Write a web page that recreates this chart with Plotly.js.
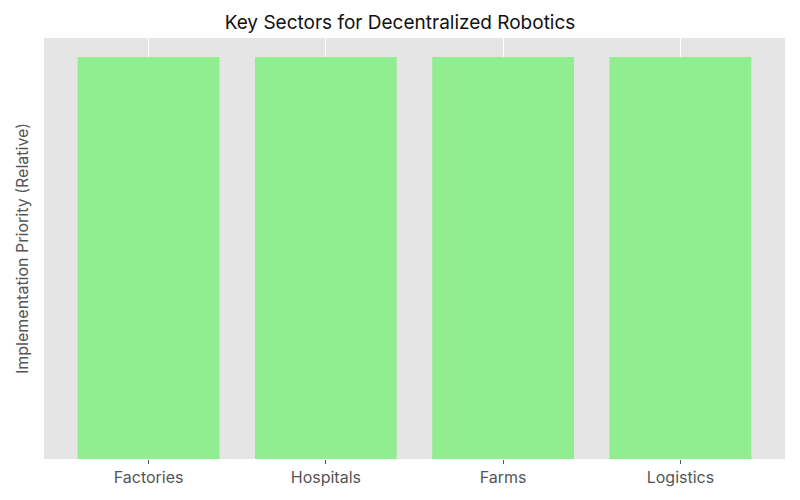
<!DOCTYPE html>
<html>
<head>
<meta charset="utf-8">
<script src="https://cdn.plot.ly/plotly-3.0.1.min.js"></script>
<style>html,body{margin:0;padding:0;background:#fff;}#chart{width:800px;height:500px;}</style>
</head>
<body>
<div id="chart"></div>
<script>
const sectors = ["Factories", "Hospitals", "Farms", "Logistics"];
const priority = [1, 1, 1, 1];

const trace = {
  type: "bar",
  x: sectors,
  y: priority,
  marker: {color: "#90ee90"},
  hoverinfo: "x+y"
};

const layout = {
  width: 800,
  height: 500,
  margin: {l: 44, r: 15, t: 38, b: 41},
  paper_bgcolor: "#ffffff",
  plot_bgcolor: "#e5e5e5",
  font: {family: "Inter, Roboto, 'Noto Sans', sans-serif", color: "#555555"},
  title: {text: "Key Sectors for Decentralized Robotics", font: {size: 19, color: "#111111"}, x: 0.5, xanchor: "center", y: 0.955, yanchor: "middle"},
  bargap: 0.2,
  showlegend: false,
  xaxis: {
    range: [-0.59, 3.59],
    showgrid: true,
    gridcolor: "#ffffff",
    gridwidth: 1,
    ticks: "outside",
    ticklen: 4,
    tickcolor: "#555555",
    tickfont: {size: 16, color: "#555555"},
    zeroline: false,
    showline: false
  },
  yaxis: {
    range: [0, 1.047],
    showgrid: false,
    showticklabels: false,
    ticks: "",
    zeroline: false,
    showline: false,
    title: {text: "Implementation Priority (Relative)", font: {size: 16, color: "#555555"}, standoff: 10}
  }
};

Plotly.newPlot("chart", [trace], layout, {displayModeBar: false, responsive: false});
</script>
</body>
</html>
